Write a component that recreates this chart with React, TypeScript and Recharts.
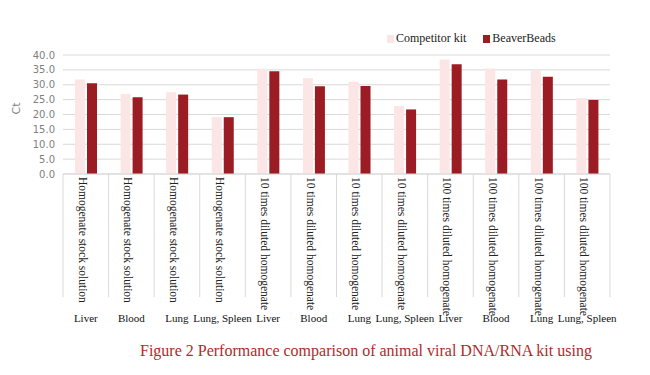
import React from "react";
import { Bar, BarChart, CartesianGrid, XAxis, YAxis } from "recharts";

const sampleTypes = [
  "Homogenate stock solution",
  "Homogenate stock solution",
  "Homogenate stock solution",
  "Homogenate stock solution",
  "10 times diluted homogenate",
  "10 times diluted homogenate",
  "10 times diluted homogenate",
  "10 times diluted homogenate",
  "100 times diluted homogenate",
  "100 times diluted homogenate",
  "100 times diluted homogenate",
  "100 times diluted homogenate",
];
const tissues = [
  "Liver", "Blood", "Lung", "Lung, Spleen",
  "Liver", "Blood", "Lung", "Lung, Spleen",
  "Liver", "Blood", "Lung", "Lung, Spleen",
];
const competitorKit = [31.8, 26.9, 27.5, 19.1, 35.4, 32.2, 31.0, 22.9, 38.5, 35.5, 34.7, 25.5];
const beaverBeads = [30.5, 25.8, 26.7, 19.1, 34.5, 29.5, 29.6, 21.7, 36.9, 31.8, 32.7, 24.9];
const yTicks = [0, 5, 10, 15, 20, 25, 30, 35, 40];

const data = sampleTypes.map((s, i) => ({
  key: String(i),
  competitor: competitorKit[i],
  beaver: beaverBeads[i],
}));

const W = 650;
const H = 375;
const M = { top: 55, right: 40, left: 0, bottom: 0 };
const Y_AXIS_W = 63;
const STEP = (W - M.left - M.right - Y_AXIS_W) / sampleTypes.length;

const serif = "'Liberation Serif', 'Times New Roman', serif";

function CategoryTick(props: any) {
  const { x, y, payload } = props;
  const i = parseInt(payload.value, 10);
  const last = i === sampleTypes.length - 1;
  return (
    <g>
      <line x1={x - STEP / 2} x2={x - STEP / 2} y1={y} y2={y + 123} stroke="#d9d9d9" />
      {last && <line x1={x + STEP / 2} x2={x + STEP / 2} y1={y} y2={y + 123} stroke="#d9d9d9" />}
      <text
        x={0}
        y={0}
        transform={`translate(${x - 7}, ${y + 3}) rotate(90)`}
        fontFamily={serif}
        fontSize={11.5}
        fill="#222"
        textAnchor="start"
      >
        {sampleTypes[i]}
      </text>
      <text x={x} y={y + 148} fontFamily={serif} fontSize={11} fill="#111" textAnchor="middle">
        {tissues[i]}
      </text>
    </g>
  );
}

export default function App() {
  return (
    <div style={{ position: "absolute", left: 0, top: 0, width: W, height: H, background: "#fff" }}>
      <BarChart width={W} height={H} data={data} margin={M} barGap={2} barCategoryGap={12}>
        <CartesianGrid vertical={false} stroke="#d9d9d9" />
        <XAxis
          dataKey="key"
          height={H - 174}
          axisLine={{ stroke: "#d9d9d9" }}
          tickLine={false}
          tickSize={0}
          tickMargin={0}
          interval={0}
          tick={<CategoryTick />}
        />
        <YAxis
          width={Y_AXIS_W}
          domain={[0, 40]}
          ticks={yTicks}
          interval={0}
          axisLine={false}
          tickLine={false}
          tickFormatter={(v: number) => v.toFixed(1)}
          tick={{ fontSize: 10, fill: "#7f7f7f", fontFamily: "'DejaVu Sans', sans-serif" }}
          label={{
            value: "Ct",
            angle: -90,
            position: "insideLeft",
            offset: 16,
            style: { fontSize: 11, fill: "#7f7f7f", fontFamily: "'DejaVu Sans', sans-serif" },
          }}
        />
        <Bar dataKey="competitor" fill="#fbe5e5" barSize={10} isAnimationActive={false} />
        <Bar dataKey="beaver" fill="#9b1c22" barSize={10} isAnimationActive={false} />
      </BarChart>
      <div
        style={{
          position: "absolute",
          top: 31,
          left: 387,
          display: "flex",
          alignItems: "center",
          fontFamily: serif,
          fontSize: 12,
          color: "#222",
        }}
      >
        <span style={{ width: 7, height: 8, background: "#fbe5e5", marginRight: 2 }} />
        <span>Competitor kit</span>
        <span style={{ width: 7, height: 8, background: "#9b1c22", marginLeft: 17, marginRight: 2 }} />
        <span>BeaverBeads</span>
      </div>
      <div
        style={{
          position: "absolute",
          top: 342,
          left: 140,
          fontFamily: serif,
          fontSize: 16,
          color: "#b02a2a",
          whiteSpace: "nowrap",
        }}
      >
        Figure 2 Performance comparison of animal viral DNA/RNA kit using
      </div>
    </div>
  );
}
